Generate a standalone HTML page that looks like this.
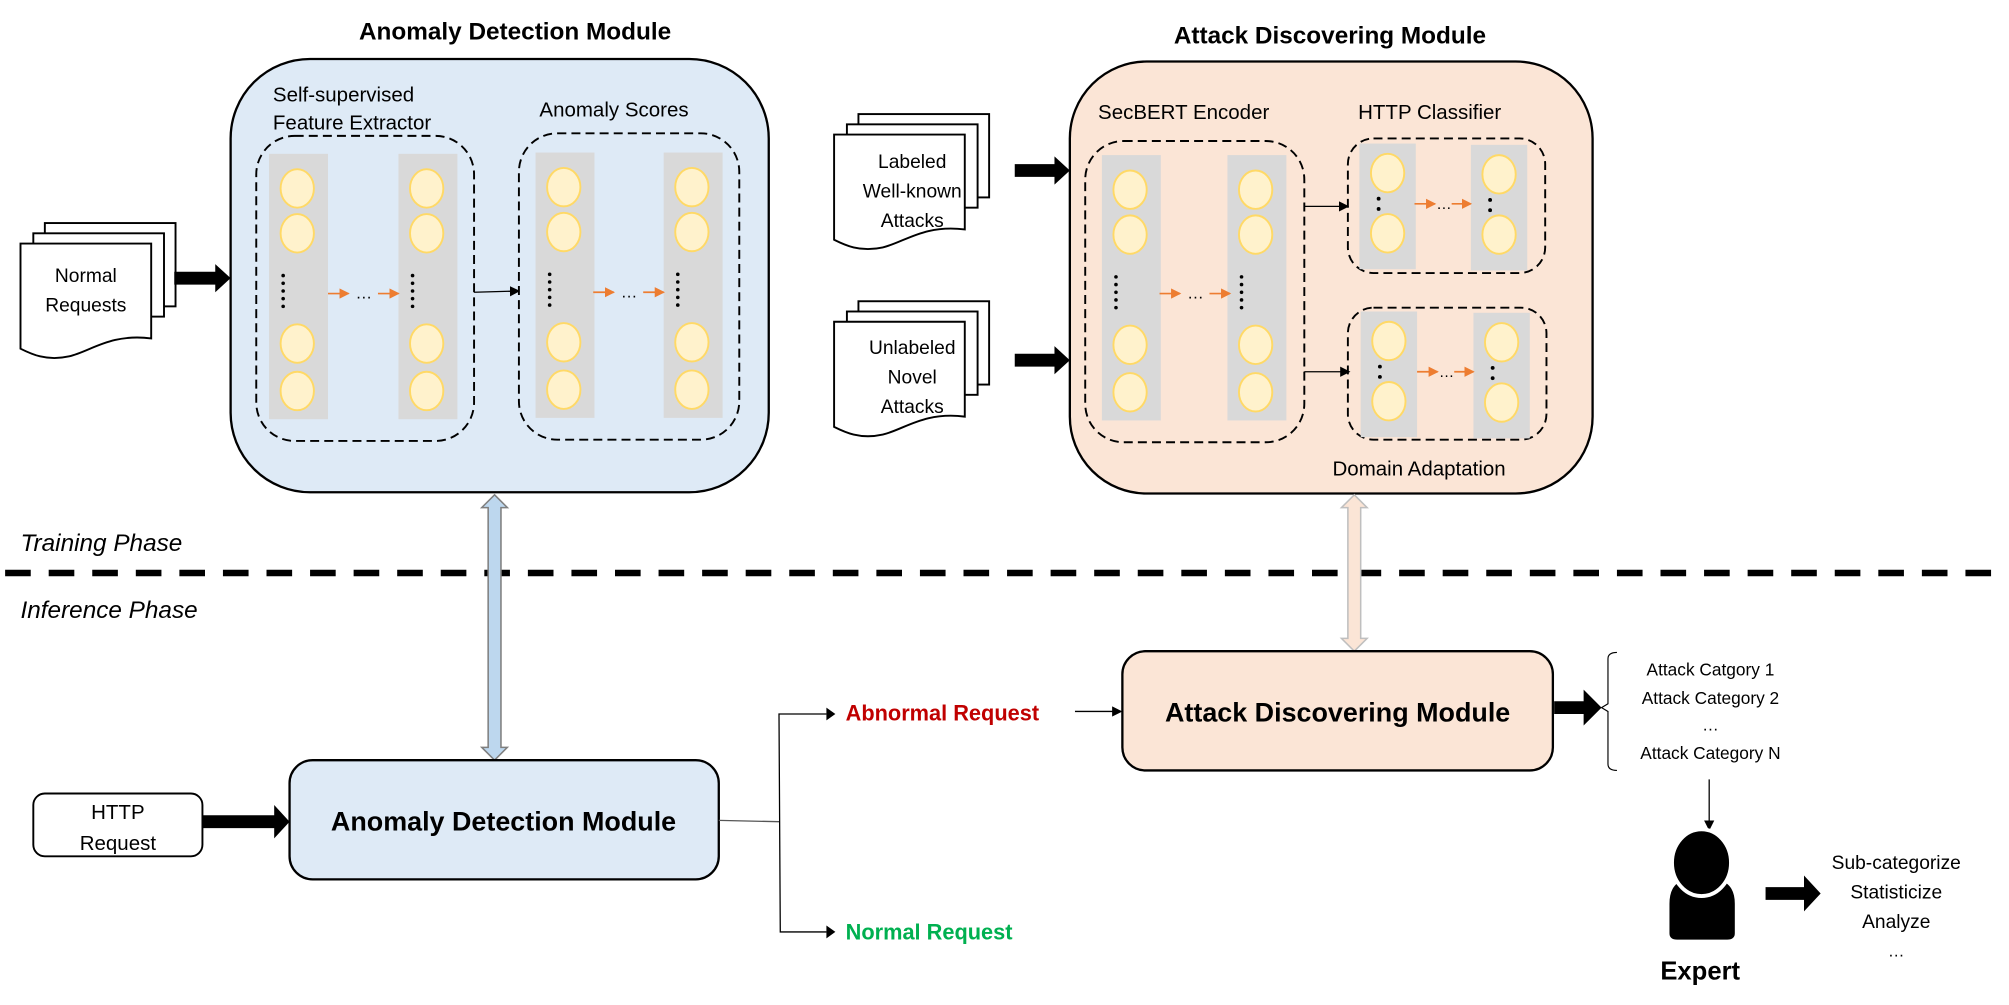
<!DOCTYPE html>
<html><head><meta charset="utf-8"><style>html,body{margin:0;padding:0;background:#fff}svg{display:block}</style></head>
<body>
<svg width="2009" height="1005" viewBox="0 0 1568 784" preserveAspectRatio="none" xmlns="http://www.w3.org/2000/svg" font-family="Liberation Sans, sans-serif">
<defs>
<marker id="ah" markerWidth="8" markerHeight="8" refX="7" refY="4" orient="auto" markerUnits="userSpaceOnUse"><path d="M0,0 L8,4 L0,8 z" fill="#000"/></marker>
<marker id="oh" markerWidth="8" markerHeight="8" refX="7" refY="4" orient="auto" markerUnits="userSpaceOnUse"><path d="M0,0 L8,4 L0,8 z" fill="#ED7D31"/></marker>
<g id="col4">
 <rect x="0" y="0" width="46" height="207" fill="#D9D9D9"/>
 <ellipse cx="22" cy="27" rx="13" ry="15" fill="#FFF2CC" stroke="#FFD966" stroke-width="1.5"/>
 <ellipse cx="22" cy="62" rx="13" ry="15" fill="#FFF2CC" stroke="#FFD966" stroke-width="1.5"/>
 <ellipse cx="22" cy="148" rx="13" ry="15" fill="#FFF2CC" stroke="#FFD966" stroke-width="1.5"/>
 <ellipse cx="22" cy="185" rx="13" ry="15" fill="#FFF2CC" stroke="#FFD966" stroke-width="1.5"/>
 <g fill="#000"><circle cx="11" cy="95" r="1.4"/><circle cx="11" cy="101" r="1.4"/><circle cx="11" cy="107" r="1.4"/><circle cx="11" cy="113" r="1.4"/><circle cx="11" cy="119" r="1.4"/></g>
</g>
<g id="col2">
 <rect x="0" y="0" width="44" height="98" fill="#D9D9D9"/>
 <ellipse cx="22" cy="23" rx="13" ry="15" fill="#FFF2CC" stroke="#FFD966" stroke-width="1.5"/>
 <ellipse cx="22" cy="70" rx="13" ry="15" fill="#FFF2CC" stroke="#FFD966" stroke-width="1.5"/>
 <circle cx="15" cy="43" r="1.5"/><circle cx="15" cy="51" r="1.5"/>
</g>
<g id="oarr">
 <line x1="0" y1="0" x2="16" y2="0" stroke="#ED7D31" stroke-width="1.3" marker-end="url(#oh)"/>
 <text x="28" y="4" font-size="13" text-anchor="middle">…</text>
 <line x1="39" y1="0" x2="55" y2="0" stroke="#ED7D31" stroke-width="1.3" marker-end="url(#oh)"/>
</g>
<g id="doc">
 <rect x="19" y="0" width="102" height="65" fill="#fff" stroke="#000" stroke-width="1.5"/>
 <rect x="10" y="8" width="102" height="65" fill="#fff" stroke="#000" stroke-width="1.5"/>
 <path d="M0,16 H102 V90 C70,86 55,100 38,104 C20,108 8,102 0,98 Z" fill="#fff" stroke="#000" stroke-width="1.5"/>
</g>
</defs>

<text x="402" y="31" font-size="19" font-weight="bold" text-anchor="middle">Anomaly Detection Module</text>
<text x="1038" y="34" font-size="19" font-weight="bold" text-anchor="middle">Attack Discovering Module</text>

<rect x="180" y="46" width="420" height="338" rx="62" fill="#DEEAF6" stroke="#000" stroke-width="1.8"/>
<text x="213" y="79" font-size="16">Self-supervised</text>
<text x="213" y="101" font-size="16">Feature Extractor</text>
<text x="421" y="91" font-size="16">Anomaly Scores</text>
<rect x="200" y="106" width="170" height="238" rx="30" fill="none" stroke="#000" stroke-width="1.5" stroke-dasharray="7,4"/>
<rect x="405" y="104" width="172" height="239" rx="30" fill="none" stroke="#000" stroke-width="1.5" stroke-dasharray="7,4"/>
<use href="#col4" x="210" y="120"/>
<use href="#col4" x="311" y="120"/>
<use href="#col4" x="418" y="119"/>
<use href="#col4" x="518" y="119"/>
<use href="#oarr" x="256" y="229"/>
<use href="#oarr" x="463" y="228"/>
<line x1="370" y1="228" x2="405" y2="227" stroke="#000" stroke-width="1" marker-end="url(#ah)"/>

<use href="#doc" x="16" y="174"/>
<text x="67" y="220" font-size="15" text-anchor="middle">Normal</text>
<text x="67" y="243" font-size="15" text-anchor="middle">Requests</text>
<path d="M136,212 H168 V206 L180,217 L168,228 V222 H136 Z" fill="#000"/>

<rect x="835" y="48" width="408" height="337" rx="60" fill="#FBE5D6" stroke="#000" stroke-width="1.8"/>
<text x="857" y="93" font-size="16">SecBERT Encoder</text>
<text x="1060" y="93" font-size="16">HTTP Classifier</text>
<text x="1040" y="371" font-size="16">Domain Adaptation</text>
<rect x="847" y="110" width="171" height="235" rx="30" fill="none" stroke="#000" stroke-width="1.5" stroke-dasharray="7,4"/>
<rect x="1052" y="108" width="154" height="105" rx="20" fill="none" stroke="#000" stroke-width="1.5" stroke-dasharray="7,4"/>
<rect x="1052" y="240" width="155" height="103" rx="20" fill="none" stroke="#000" stroke-width="1.5" stroke-dasharray="7,4"/>
<use href="#col4" x="860" y="121"/>
<use href="#col4" x="958" y="121"/>
<use href="#oarr" x="905" y="229"/>
<use href="#col2" x="1061" y="112"/>
<use href="#col2" x="1148" y="113"/>
<use href="#col2" x="1062" y="243"/>
<use href="#col2" x="1150" y="244"/>
<line x1="1104" y1="159" x2="1120" y2="159" stroke="#ED7D31" stroke-width="1.3" marker-end="url(#oh)"/>
<text x="1127" y="163" font-size="12" text-anchor="middle">…</text>
<line x1="1133" y1="159" x2="1148" y2="159" stroke="#ED7D31" stroke-width="1.3" marker-end="url(#oh)"/>
<line x1="1106" y1="290" x2="1122" y2="290" stroke="#ED7D31" stroke-width="1.3" marker-end="url(#oh)"/>
<text x="1129" y="294" font-size="12" text-anchor="middle">…</text>
<line x1="1135" y1="290" x2="1150" y2="290" stroke="#ED7D31" stroke-width="1.3" marker-end="url(#oh)"/>
<line x1="1018" y1="161" x2="1052" y2="161" stroke="#000" stroke-width="1" marker-end="url(#ah)"/>
<line x1="1018" y1="290" x2="1053" y2="290" stroke="#000" stroke-width="1" marker-end="url(#ah)"/>

<use href="#doc" x="651" y="89"/>
<text x="712" y="131" font-size="15" text-anchor="middle">Labeled</text>
<text x="712" y="154" font-size="15" text-anchor="middle">Well-known</text>
<text x="712" y="177" font-size="15" text-anchor="middle">Attacks</text>
<path d="M792,128 H823 V122 L835,133 L823,144 V138 H792 Z" fill="#000"/>
<use href="#doc" x="651" y="235"/>
<text x="712" y="276" font-size="15" text-anchor="middle">Unlabeled</text>
<text x="712" y="299" font-size="15" text-anchor="middle">Novel</text>
<text x="712" y="322" font-size="15" text-anchor="middle">Attacks</text>
<path d="M792,276 H823 V270 L835,281 L823,292 V286 H792 Z" fill="#000"/>

<text x="16" y="430" font-size="19" font-style="italic">Training Phase</text>
<line x1="4" y1="447" x2="1568" y2="447" stroke="#000" stroke-width="5" stroke-dasharray="20,14"/>
<text x="16" y="482" font-size="19" font-style="italic">Inference Phase</text>

<path d="M386,386 L396,396 H391 V583 H396 L386,593 L376,583 H381 V396 H376 Z" fill="#BDD7EE" stroke="#7F7F7F" stroke-width="1.2"/>
<path d="M1057,386 L1067,396 H1062 V498 H1067 L1057,508 L1047,498 H1052 V396 H1047 Z" fill="#FBE5D6" stroke="#BFBFBF" stroke-width="1.2"/>

<rect x="26" y="619" width="132" height="49" rx="9" fill="#fff" stroke="#000" stroke-width="1.5"/>
<text x="92" y="639" font-size="16" text-anchor="middle">HTTP</text>
<text x="92" y="663" font-size="16" text-anchor="middle">Request</text>
<path d="M158,636 H214 V628 L226,641 L214,654 V646 H158 Z" fill="#000"/>
<rect x="226" y="593" width="335" height="93" rx="18" fill="#DEEAF6" stroke="#000" stroke-width="1.8"/>
<text x="393" y="648" font-size="21" font-weight="bold" text-anchor="middle">Anomaly Detection Module</text>
<polyline points="561,640 608,641" fill="none" stroke="#555" stroke-width="1"/>
<polyline points="645,557 608,557 609,727 645,727" fill="none" stroke="#000" stroke-width="1"/>
<path d="M645,552 L652,557 L645,562 Z" fill="#000"/>
<path d="M645,722 L652,727 L645,732 Z" fill="#000"/>
<text x="660" y="562" font-size="17" font-weight="bold" fill="#C00000">Abnormal Request</text>
<text x="660" y="733" font-size="17" font-weight="bold" fill="#00B050">Normal Request</text>
<line x1="839" y1="555" x2="875" y2="555" stroke="#000" stroke-width="1" marker-end="url(#ah)"/>
<rect x="876" y="508" width="336" height="93" rx="18" fill="#FBE5D6" stroke="#000" stroke-width="1.8"/>
<text x="1044" y="563" font-size="21" font-weight="bold" text-anchor="middle">Attack Discovering Module</text>
<path d="M1213,547 H1236 V538 L1250,552 L1236,566 V557 H1213 Z" fill="#000"/>
<path d="M1262,509 Q1255,509 1255,514 V549 L1250,552 L1255,555 V596 Q1255,601 1262,601" fill="none" stroke="#000" stroke-width="0.9"/>
<text x="1335" y="527" font-size="13.5" text-anchor="middle">Attack Catgory 1</text>
<text x="1335" y="549" font-size="13.5" text-anchor="middle">Attack Category 2</text>
<text x="1335" y="570" font-size="13" text-anchor="middle">…</text>
<text x="1335" y="592" font-size="13.5" text-anchor="middle">Attack Category N</text>
<line x1="1334" y1="608" x2="1334" y2="647" stroke="#000" stroke-width="1" marker-end="url(#ah)"/>
<path d="M1303,728 V705 Q1303,688 1317,686 Q1328,700 1339,686 Q1354,688 1354,705 V728 Q1354,733 1348,733 H1309 Q1303,733 1303,728 Z" fill="#000"/>
<ellipse cx="1328" cy="673" rx="23" ry="26" fill="#000" stroke="#fff" stroke-width="3"/>
<text x="1327" y="764" font-size="20" font-weight="bold" text-anchor="middle">Expert</text>
<path d="M1378,692 H1408 V683 L1421,697 L1408,711 V702 H1378 Z" fill="#000"/>
<text x="1480" y="678" font-size="15" text-anchor="middle">Sub-categorize</text>
<text x="1480" y="701" font-size="15" text-anchor="middle">Statisticize</text>
<text x="1480" y="724" font-size="15" text-anchor="middle">Analyze</text>
<text x="1480" y="746" font-size="13" text-anchor="middle">…</text>
</svg>
</body></html>
